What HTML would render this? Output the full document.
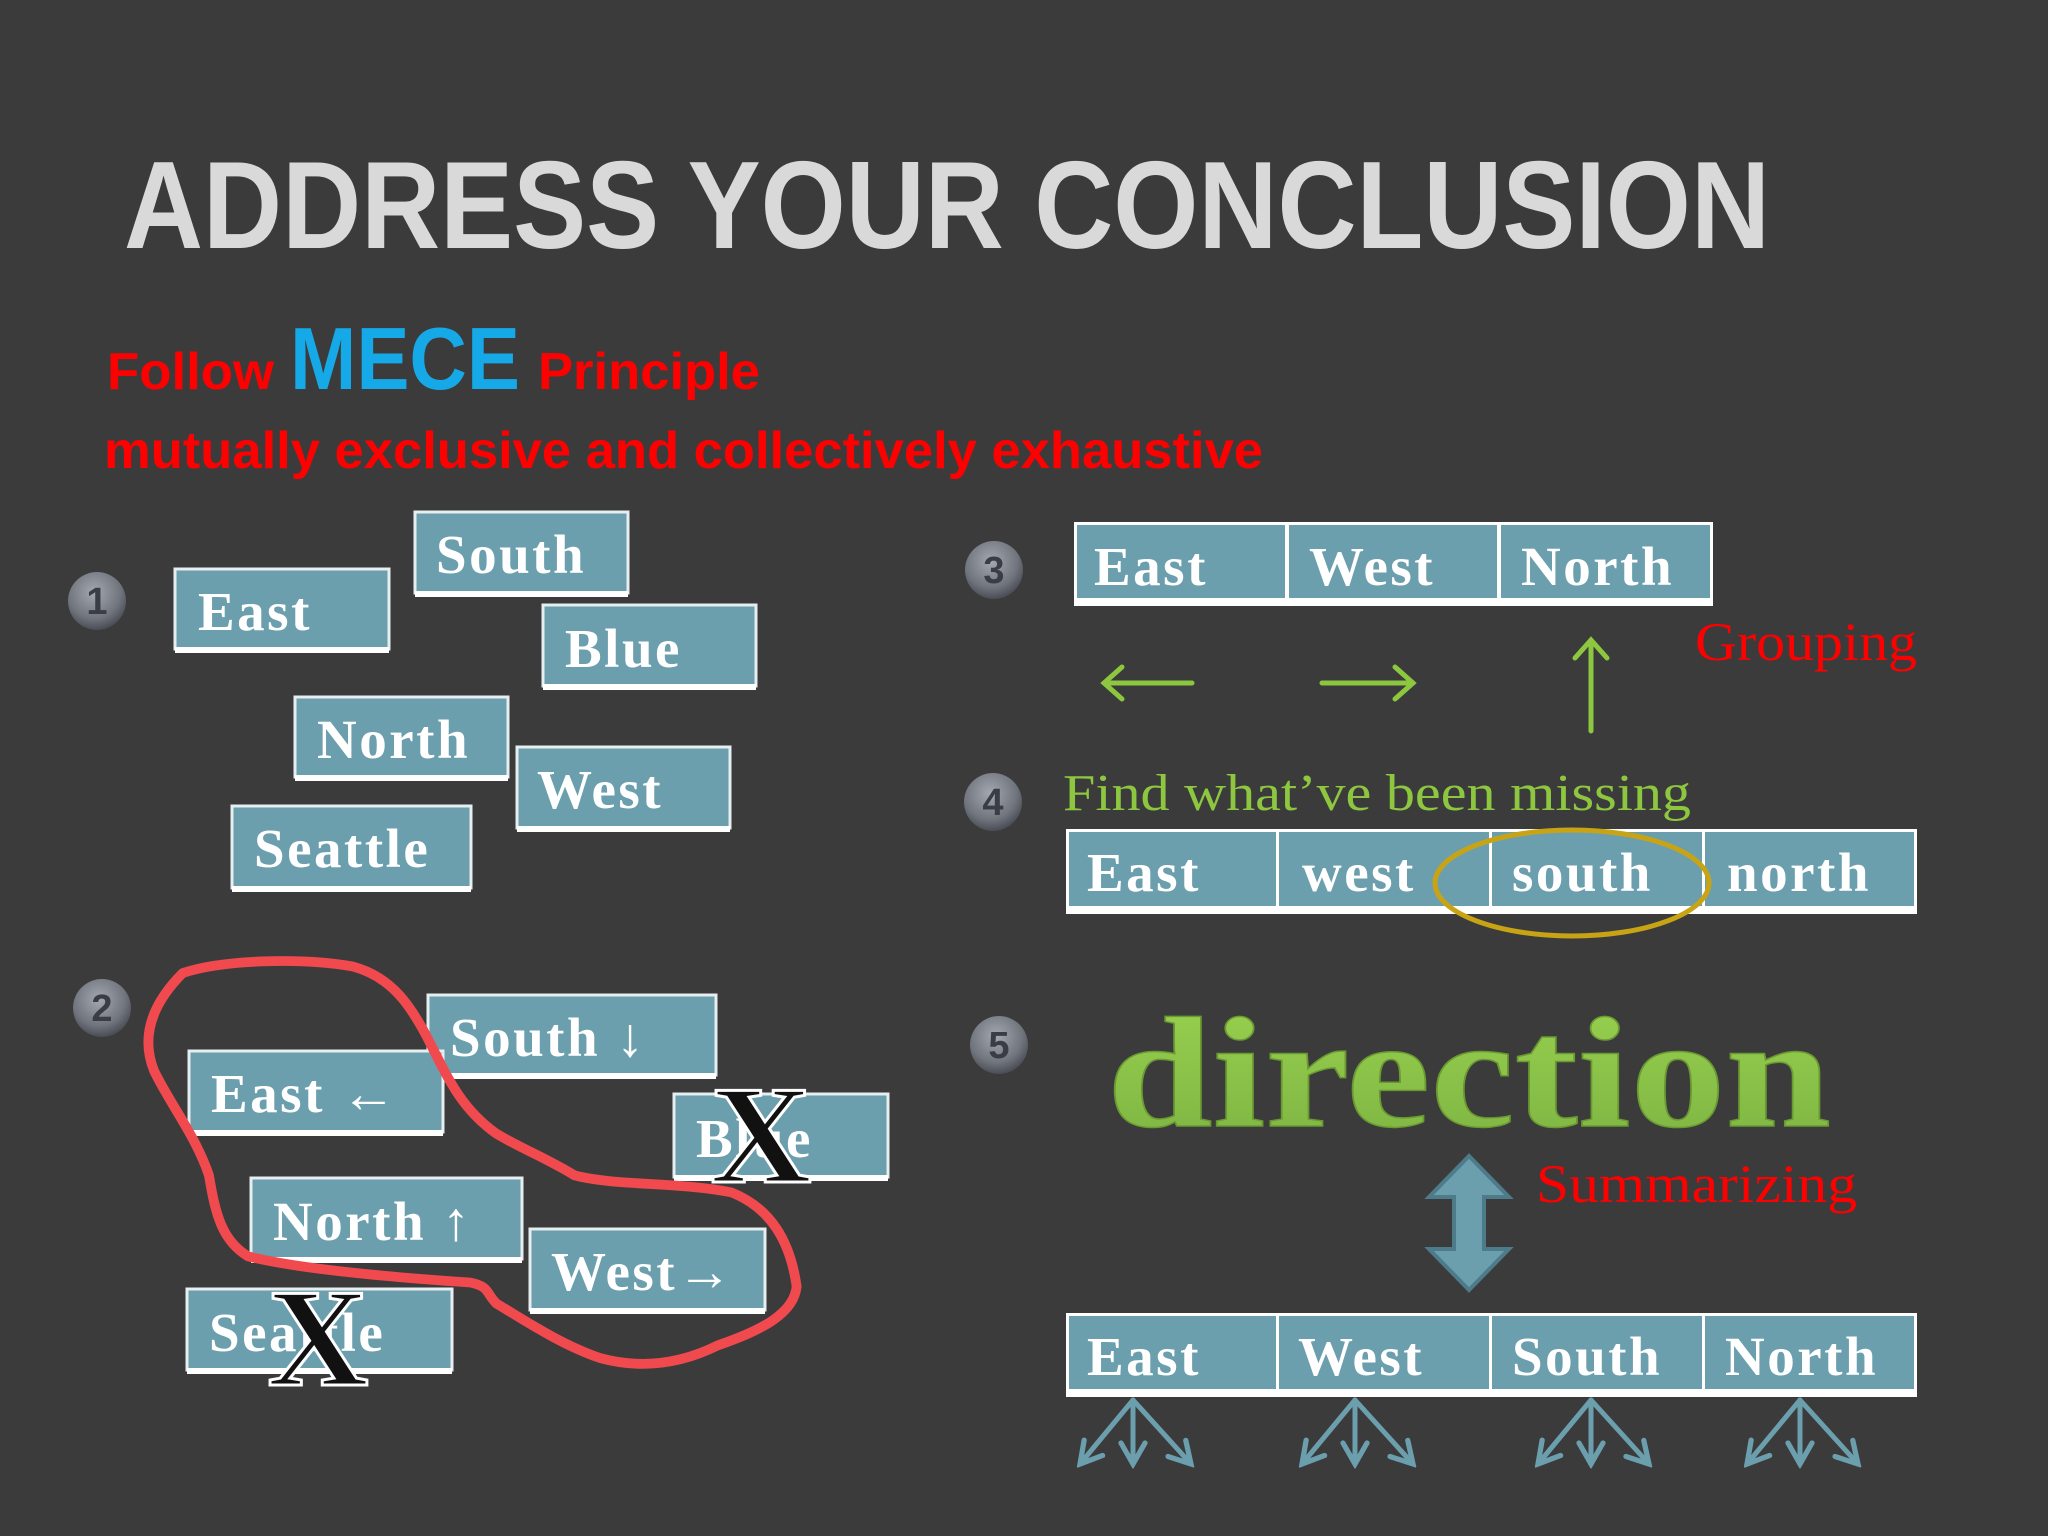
<!DOCTYPE html>
<html><head><meta charset="utf-8"><style>
html,body{margin:0;padding:0;background:#3b3b3c;}
svg{display:block}
.bx{fill:#6c9fae;stroke:#e6eef0;stroke-width:3}
.bt{fill:#fff;font-family:"Liberation Serif",serif;font-weight:bold;font-size:55px;letter-spacing:2.5px}
.num{font-family:"Liberation Sans",sans-serif;font-weight:bold;font-size:38px;fill:#3a3d45;text-anchor:middle}
</style></head><body>
<svg width="2048" height="1536" viewBox="0 0 2048 1536" xmlns="http://www.w3.org/2000/svg">
<defs>
<radialGradient id="cg" cx="45%" cy="35%" r="65%"><stop offset="0" stop-color="#a4a8b0"/><stop offset="0.7" stop-color="#70747c"/><stop offset="1" stop-color="#4a4d55"/></radialGradient>
<linearGradient id="dg" x1="0" y1="0" x2="0" y2="1"><stop offset="0" stop-color="#9ad250"/><stop offset="1" stop-color="#7cb342"/></linearGradient>
<marker id="ah" viewBox="0 0 20 20" refX="17" refY="10" markerWidth="6" markerHeight="6" markerUnits="strokeWidth" orient="auto"><path d="M3,2 L17,10 L3,18" fill="none" stroke="#6c9fae" stroke-width="3.5" stroke-linecap="round"/></marker>
</defs>
<rect width="2048" height="1536" fill="#3b3b3c"/>
<text x="124" y="248" font-family="Liberation Sans,sans-serif" font-weight="bold" font-size="124" fill="#d9d9d9" textLength="1646" lengthAdjust="spacingAndGlyphs">ADDRESS YOUR CONCLUSION</text>
<text x="107" y="389" font-family="Liberation Sans,sans-serif" font-weight="bold" font-size="52" fill="#ff0000" textLength="167" lengthAdjust="spacingAndGlyphs">Follow</text>
<text x="290" y="389" font-family="Liberation Sans,sans-serif" font-weight="bold" font-size="88" fill="#16a9e8" textLength="230" lengthAdjust="spacingAndGlyphs">MECE</text>
<text x="538" y="389" font-family="Liberation Sans,sans-serif" font-weight="bold" font-size="52" fill="#ff0000" textLength="222" lengthAdjust="spacingAndGlyphs">Principle</text>
<text x="104" y="468" font-family="Liberation Sans,sans-serif" font-weight="bold" font-size="52" fill="#ff0000" textLength="1159" lengthAdjust="spacingAndGlyphs">mutually exclusive and collectively exhaustive</text>

<g>
<circle cx="97" cy="601" r="29" fill="url(#cg)"/><text class="num" x="97" y="614">1</text>
<circle cx="102" cy="1008" r="29" fill="url(#cg)"/><text class="num" x="102" y="1021">2</text>
<circle cx="994" cy="570" r="29" fill="url(#cg)"/><text class="num" x="994" y="583">3</text>
<circle cx="993" cy="802" r="29" fill="url(#cg)"/><text class="num" x="993" y="815">4</text>
<circle cx="999" cy="1045" r="29" fill="url(#cg)"/><text class="num" x="999" y="1058">5</text>
</g>

<g>
<rect class="bx" x="175" y="569" width="214" height="80"/><rect x="175" y="647" width="214" height="6" fill="#fff"/><text class="bt" x="198" y="630">East</text>
<rect class="bx" x="415" y="512" width="213" height="81"/><rect x="415" y="591" width="213" height="6" fill="#fff"/><text class="bt" x="436" y="573">South</text>
<rect class="bx" x="543" y="605" width="213" height="81"/><rect x="543" y="684" width="213" height="6" fill="#fff"/><text class="bt" x="565" y="667">Blue</text>
<rect class="bx" x="295" y="697" width="213" height="80"/><rect x="295" y="775" width="213" height="6" fill="#fff"/><text class="bt" x="317" y="758">North</text>
<rect class="bx" x="517" y="747" width="213" height="81"/><rect x="517" y="826" width="213" height="6" fill="#fff"/><text class="bt" x="537" y="808">West</text>
<rect class="bx" x="232" y="806" width="239" height="82"/><rect x="232" y="886" width="239" height="6" fill="#fff"/><text class="bt" x="254" y="867">Seattle</text>
</g>

<g>
<rect class="bx" x="428" y="995" width="288" height="80"/><rect x="428" y="1073" width="288" height="6" fill="#fff"/><text class="bt" x="450" y="1056">South ↓</text>
<rect class="bx" x="189" y="1051" width="254" height="81"/><rect x="189" y="1130" width="254" height="6" fill="#fff"/><text class="bt" x="211" y="1112">East ←</text>
<rect class="bx" x="674" y="1094" width="214" height="83"/><rect x="674" y="1175" width="214" height="6" fill="#fff"/><text class="bt" x="696" y="1157">Blue</text>
<rect class="bx" x="251" y="1178" width="271" height="81"/><rect x="251" y="1257" width="271" height="6" fill="#fff"/><text class="bt" x="273" y="1240">North ↑</text>
<rect class="bx" x="530" y="1229" width="235" height="81"/><rect x="530" y="1308" width="235" height="6" fill="#fff"/><text class="bt" x="551" y="1290">West→</text>
<rect class="bx" x="187" y="1289" width="265" height="81"/><rect x="187" y="1368" width="265" height="6" fill="#fff"/><text class="bt" x="209" y="1351">Seattle</text>
<text x="761" y="1182" text-anchor="middle" font-family="Liberation Serif,serif" font-weight="bold" font-size="140" fill="#111" stroke="#fff" stroke-width="3">X</text>
<text x="318" y="1385" text-anchor="middle" font-family="Liberation Serif,serif" font-weight="bold" font-size="140" fill="#111" stroke="#fff" stroke-width="3">X</text>
<path transform="scale(1.306)" d="M140,745 C170,735 230,733 270,740 C300,748 315,770 330,800 C345,830 355,850 380,868 C400,880 415,885 440,900 C470,908 520,905 560,913 C590,925 605,950 610,985 C608,1005 585,1018 550,1030 C520,1045 490,1048 460,1040 C430,1030 400,1010 380,998 C372,990 375,985 360,982 C300,978 230,972 190,962 C170,950 165,930 160,900 C150,870 130,845 118,820 C108,795 115,770 140,745 Z" fill="none" stroke="#f04a4f" stroke-width="7.5" stroke-linejoin="round"/>
</g>

<g>
<rect x="1074" y="522" width="639" height="84" fill="#fff"/>
<rect x="1077" y="525" width="208" height="73" fill="#6c9fae"/>
<rect x="1289" y="525" width="208" height="73" fill="#6c9fae"/>
<rect x="1501" y="525" width="209" height="73" fill="#6c9fae"/>
<text class="bt" x="1094" y="585">East</text>
<text class="bt" x="1309" y="585">West</text>
<text class="bt" x="1521" y="585">North</text>
<g stroke="#8dc63f" stroke-width="5" fill="none" stroke-linecap="round">
<path d="M1104,683 H1192 M1122,667 L1104,683 L1122,699"/>
<path d="M1322,683 H1413 M1395,667 L1413,683 L1395,699"/>
<path d="M1591,731 V640 M1575,658 L1591,640 L1607,658"/>
</g>
<text x="1695" y="660" font-family="Liberation Serif,serif" font-size="54" fill="#ff0000" textLength="222" lengthAdjust="spacingAndGlyphs">Grouping</text>
</g>

<g>
<text x="1063" y="810" font-family="Liberation Serif,serif" font-size="52" fill="#8dc63f" textLength="628" lengthAdjust="spacingAndGlyphs">Find what’ve been missing</text>
<rect x="1066" y="829" width="851" height="85" fill="#fff"/>
<rect x="1069" y="832" width="207" height="74" fill="#6c9fae"/>
<rect x="1279" y="832" width="210" height="74" fill="#6c9fae"/>
<rect x="1492" y="832" width="210" height="74" fill="#6c9fae"/>
<rect x="1705" y="832" width="209" height="74" fill="#6c9fae"/>
<text class="bt" x="1087" y="891">East</text>
<text class="bt" x="1302" y="891">west</text>
<text class="bt" x="1512" y="891">south</text>
<text class="bt" x="1727" y="891">north</text>
<ellipse cx="1572" cy="883" rx="137" ry="53" fill="none" stroke="#c8a415" stroke-width="5"/>
</g>

<g>
<text x="1107" y="1126" font-family="Liberation Serif,serif" font-weight="bold" font-size="158" fill="url(#dg)" stroke="#6a9a30" stroke-width="1.5" textLength="724" lengthAdjust="spacingAndGlyphs">direction</text>
<text x="1536" y="1202" font-family="Liberation Serif,serif" font-size="54" fill="#ff0000" textLength="321" lengthAdjust="spacingAndGlyphs">Summarizing</text>
<path d="M1469,1156 L1509,1197 L1484,1197 L1484,1249 L1509,1249 L1469,1290 L1429,1249 L1454,1249 L1454,1197 L1429,1197 Z" fill="#6c9fae" stroke="#4d7b8a" stroke-width="4" stroke-linejoin="miter"/>
<rect x="1066" y="1313" width="851" height="84" fill="#fff"/>
<rect x="1069" y="1316" width="207" height="73" fill="#6c9fae"/>
<rect x="1279" y="1316" width="210" height="73" fill="#6c9fae"/>
<rect x="1492" y="1316" width="210" height="73" fill="#6c9fae"/>
<rect x="1705" y="1316" width="209" height="73" fill="#6c9fae"/>
<text class="bt" x="1087" y="1375">East</text>
<text class="bt" x="1298" y="1375">West</text>
<text class="bt" x="1512" y="1375">South</text>
<text class="bt" x="1725" y="1375">North</text>
<g stroke="#6c9fae" stroke-width="5" fill="none" stroke-linecap="round">
<g id="fan">
<path d="M1133,1400 L1080,1464" marker-end="url(#ah)"/>
<path d="M1133,1400 L1133,1464" marker-end="url(#ah)"/>
<path d="M1133,1400 L1191,1464" marker-end="url(#ah)"/>
</g>
<use href="#fan" transform="translate(222,0)"/>
<use href="#fan" transform="translate(458,0)"/>
<use href="#fan" transform="translate(667,0)"/>
</g>
</g>
</svg>
</body></html>
